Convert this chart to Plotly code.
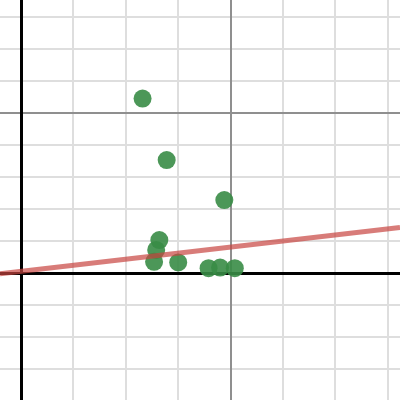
import plotly.graph_objects as go

# точки (x, y)
point_x = [1.16, 1.39, 1.94, 1.32, 1.29, 1.27, 1.50, 1.79, 1.90, 2.04]
point_y = [5.45, 3.53, 2.28, 1.03, 0.72, 0.35, 0.33, 0.15, 0.17, 0.15]

# прямая y = k*x + b
line_slope = 0.38
line_intercept = 0.05

x_range = [-21 / 104.8, 379 / 104.8]
y_range = [-127 / 32, 273 / 32]

line_x = x_range
line_y = [line_slope * x + line_intercept for x in line_x]

fig = go.Figure()

fig.add_trace(go.Scatter(
    x=point_x,
    y=point_y,
    mode='markers',
    marker=dict(size=18, color='#388c46', opacity=0.9, line=dict(width=0)),
    showlegend=False,
))

fig.add_trace(go.Scatter(
    x=line_x,
    y=line_y,
    mode='lines',
    line=dict(color='rgba(199, 68, 64, 0.7)', width=5),
    showlegend=False,
))

fig.update_layout(
    width=400,
    height=400,
    margin=dict(l=0, r=0, t=0, b=0),
    plot_bgcolor='#ffffff',
    paper_bgcolor='#ffffff',
)

grid_major = '#8f8f8f'
grid_minor = '#dedede'

fig.update_xaxes(
    range=x_range,
    tick0=0,
    dtick=2,
    showticklabels=False,
    ticks='',
    gridcolor=grid_major,
    gridwidth=1.6,
    zeroline=True,
    zerolinecolor='#000000',
    zerolinewidth=2.5,
    minor=dict(dtick=0.5, tick0=0, showgrid=True, gridcolor=grid_minor, gridwidth=1.8),
    showline=False,
)

fig.update_yaxes(
    range=y_range,
    tick0=0,
    dtick=5,
    showticklabels=False,
    ticks='',
    gridcolor=grid_major,
    gridwidth=1.6,
    zeroline=True,
    zerolinecolor='#000000',
    zerolinewidth=2.5,
    minor=dict(dtick=1, tick0=0, showgrid=True, gridcolor=grid_minor, gridwidth=1.8),
    showline=False,
)

fig.write_html(
    "out.html",
    config={'displayModeBar': False},
    post_script="document.body.style.margin='0';",
)
